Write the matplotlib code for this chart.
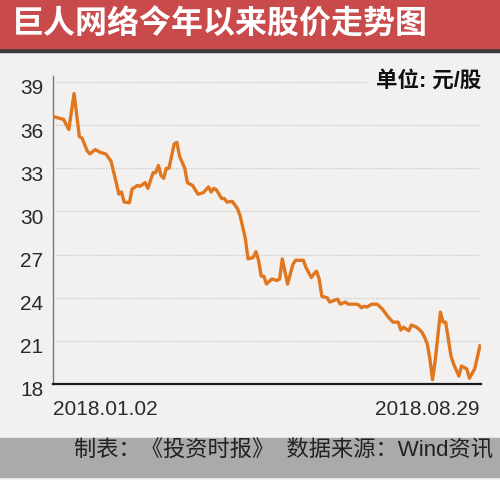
import numpy as np
import matplotlib
matplotlib.use("Agg")
import matplotlib.pyplot as plt
import matplotlib.transforms as mtransforms
from matplotlib.patches import Rectangle

# trading-day index (0 = 2018-01-02) and close price
day = [0, 2, 4, 6, 8, 10, 11, 13, 14, 16, 18, 20, 22, 24, 25, 26, 27, 29, 30, 32,
       33, 35, 36, 38, 39, 40, 41, 42, 43, 44, 46, 47, 48, 50, 51, 53, 55, 57, 58, 59,
       60, 61, 62, 64, 65, 66, 68, 70, 71, 73, 74, 76, 77, 78, 79, 80, 81, 83, 85, 86,
       87, 89, 91, 92, 94, 95, 96, 98, 99, 100, 101, 102, 104, 105, 108, 109, 111, 112, 115, 116,
       117, 118, 119, 121, 123, 125, 127, 129, 131, 132, 133, 135, 136, 138, 140, 141, 142, 143, 144, 145,
       147, 148, 149, 151, 152, 154, 155, 157, 158, 160, 162]
price = [36.6, 36.5, 36.4, 35.7, 38.2, 35.2, 35.1, 34.2, 34.0, 34.3, 34.1, 34.0, 33.5, 32.0, 31.2, 31.35, 30.65, 30.6, 31.55, 31.8,
         31.75, 32.0, 31.6, 32.7, 32.7, 33.2, 32.5, 32.3, 33.0, 33.0, 34.7, 34.8, 33.85, 33.0, 32.0, 31.8, 31.2, 31.3, 31.5, 31.7,
         31.35, 31.6, 31.5, 30.9, 30.9, 30.65, 30.7, 30.2, 29.7, 28.1, 26.7, 26.8, 27.2, 26.6, 25.5, 25.5, 24.95, 25.3, 25.2, 25.3,
         26.7, 24.95, 26.3, 26.6, 26.6, 26.6, 26.1, 25.4, 25.65, 25.85, 25.3, 24.1, 24.0, 23.7, 23.9, 23.55, 23.7, 23.55, 23.55, 23.5,
         23.3, 23.4, 23.35, 23.55, 23.55, 23.2, 22.7, 22.3, 22.3, 21.75, 21.95, 21.7, 22.1, 21.95, 21.6, 21.25, 20.8, 19.75, 18.3, 19.6,
         23.0, 22.3, 22.3, 19.95, 19.4, 18.55, 19.25, 19.05, 18.4, 19.05, 20.65]

yticks = [18, 21, 24, 27, 30, 33, 36, 39]
date_labels = ["2018.01.02", "2018.08.29"]

title = "巨人网络今年以来股价走势图"
unit = "单位: 元/股"
source = "制表：《投资时报》  数据来源：Wind资讯"

bg = "#f3f1ef"
line_c = "#e0771f"

fig = plt.figure(figsize=(5, 4.81), dpi=100, facecolor=bg)

# header band and footer band
fig.patches.append(Rectangle((0, 0.890), 1, 0.008, transform=fig.transFigure, color="#3b3b3b", zorder=0))
fig.patches.append(Rectangle((0, 0.898), 1, 0.102, transform=fig.transFigure, color="#c84a4b", zorder=1))
fig.patches.append(Rectangle((0, 0.006), 1, 0.081, transform=fig.transFigure, color="#aaa9ab", zorder=0))

fig.text(0.024, 0.948, title, color="white", fontsize=23, fontweight="bold",
         family=["Noto Sans CJK SC"], va="center", ha="left")
fig.text(0.985, 0.062, source, color="#222222", fontsize=16,
         family=["Liberation Sans", "Noto Sans CJK SC"], va="center", ha="right")

ax = fig.add_axes([0.106, 0.1996, 0.856, 0.6404])
ax.set_facecolor(bg)
ax.plot(day, price, color=line_c, lw=2.4, solid_joinstyle="round", zorder=3)

ax.set_xlim(0, 162.4)
ax.set_ylim(18, 39.42)
ax.set_yticks(yticks)
ax.set_yticklabels([str(v) for v in yticks])
for v in yticks[1:]:
    ax.axhline(v, color="#cbc9c7", lw=0.9, ls=(0, (1, 1)), zorder=1)

ax.set_xticks([day[0], day[-1]])
ax.set_xticklabels(date_labels)
xl = ax.get_xticklabels()
xl[0].set_ha("left")
xl[1].set_ha("right")

ax.tick_params(axis="both", length=0, labelsize=15, labelcolor="#2a2a2a")
ax.tick_params(axis="y", pad=7)
ax.tick_params(axis="x", pad=11)
for lab in ax.get_xticklabels() + ax.get_yticklabels():
    lab.set_family(["Liberation Sans"])
offset = mtransforms.ScaledTranslation(0, -4 / 100, fig.dpi_scale_trans)
for lab in ax.get_yticklabels():
    lab.set_transform(lab.get_transform() + offset)

for s in ["top", "right"]:
    ax.spines[s].set_visible(False)
ax.spines["left"].set_color("#7a7a7a")
ax.spines["left"].set_linewidth(1.0)
ax.spines["bottom"].set_color("#1a1a1a")
ax.spines["bottom"].set_linewidth(1.6)

ax.text(1.0, 0.985, unit, transform=ax.transAxes, ha="right", va="center",
        fontsize=15.5, fontweight="bold", color="#111111",
        family=["Liberation Sans", "Noto Sans CJK SC"], zorder=4,
        bbox=dict(boxstyle="square,pad=0.3", fc=bg, ec="none"))

fig.savefig("out.png", dpi=100, facecolor=bg)
